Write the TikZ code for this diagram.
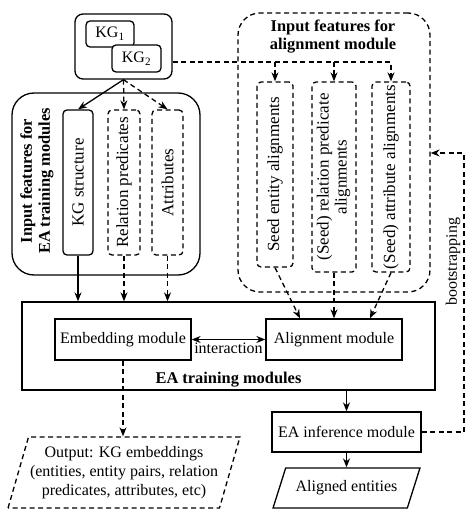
\documentclass[tikz,border=0pt]{standalone}
\usepackage{fontspec}
\setmainfont{Liberation Serif}
\usetikzlibrary{arrows.meta,shapes.geometric}

\begin{document}
\begin{tikzpicture}[x=1pt,y=-1pt,line width=1.3pt,
  font=\fontsize{16}{19}\selectfont,
  box/.style={draw,rectangle,inner sep=0pt},
  rbox/.style={box,rounded corners=4pt},
  dsh/.style={dash pattern=on 5pt off 3.5pt},
  dbox/.style={rbox,dsh},
  vert/.style={font=\fontsize{17}{18}\selectfont},
  group/.style={draw,rectangle,rounded corners=22pt,inner sep=0pt},
  bold/.style={font=\fontsize{16.4}{18}\selectfont\bfseries},
  para/.style={trapezium,draw,trapezium stretches=true,inner sep=0pt,align=center},
  arr/.style={-{Stealth[length=9pt,width=7pt]}}]
\useasboundingbox (0,0) rectangle (474,513);

% the two KGs
\node[rbox,rounded corners=8pt,minimum width=97pt,minimum height=65pt] (kg) at (123.5,46.5) {};
\node[rbox,minimum width=48pt,minimum height=26pt] (kga) at (110,34) {KG\textsubscript{1}};
\node[rbox,fill=white,minimum width=49pt,minimum height=27pt] (kgb) at (136.5,58.5) {KG\textsubscript{2}};

% input features for EA training modules
\node[group,minimum width=188pt,minimum height=182pt] (trainin) at (106,184) {};
\node[bold,rotate=90,align=center] (traintitle) at (37,181) {Input features for\\EA training modules};
\node[rbox,vert,minimum width=30pt,minimum height=145pt] (kgstr) at (78,182.5) {\rotatebox{90}{KG structure}};
\node[dbox,vert,minimum width=32pt,minimum height=145pt] (relpred) at (124,182.5) {\rotatebox{90}{Relation predicates}};
\node[dbox,vert,minimum width=31pt,minimum height=145pt] (attr) at (167.5,182.5) {\rotatebox{90}{Attributes}};

% input features for alignment module
\node[group,dsh,minimum width=192pt,minimum height=279pt] (alignin) at (334,152.5) {};
\node[bold,align=center] (aligntitle) at (333,37) {Input features for\\alignment module};
\node[dbox,vert,minimum width=36pt,minimum height=185pt] (seedent) at (275,174.5) {\rotatebox{90}{Seed entity alignments}};
\node[dbox,vert,minimum width=44pt,minimum height=190pt] (seedrel) at (334,177) {\rotatebox{90}{\begin{tabular}{@{}c@{}}(Seed) relation predicate\\alignments\end{tabular}}};
\node[dbox,vert,minimum width=38pt,minimum height=190pt] (seedattr) at (391,177) {\rotatebox{90}{(Seed) attribute alignments}};

% EA training modules
\node[box,minimum width=413pt,minimum height=88pt] (train) at (228.5,346) {};
\node[box,minimum width=136pt,minimum height=41pt] (embed) at (123,339.5) {Embedding module};
\node[box,minimum width=136pt,minimum height=41pt] (align) at (334,339.5) {Alignment module};
\node[bold] (traintxt) at (228.5,380) {EA training modules};
\draw[{Stealth[length=9pt,width=7pt]}-{Stealth[length=9pt,width=7pt]}] (embed) -- node[below=-1pt] (inter) {interaction} (align);

% outputs
\node[para,dsh,minimum width=232pt,minimum height=71pt,trapezium left angle=69,trapezium right angle=111] (outp) at (124,472.5) {Output: KG embeddings\\(entities, entity pairs, relation\\predicates, attributes, etc)};
\node[box,minimum width=149pt,minimum height=40pt] (infer) at (346.5,432) {EA inference module};
\node[para,minimum width=147pt,minimum height=40pt,trapezium left angle=54,trapezium right angle=126] (aligned) at (346.5,488) {Aligned entities};
\node[rotate=90] (boottxt) at (453,262) {bootstrapping};

% connectors
\coordinate (split) at (392,62);
\coordinate (boot) at (464,153);
\draw[arr] (kg.south) -- (kgstr.north);
\draw[arr,dsh] (kg.south) -- (relpred.north);
\draw[arr,dsh] (kg.south) -- (attr.north);
\draw[arr,dsh] (kg.east |- split) -| (seedattr.north);
\draw[arr,dsh] (seedent.north |- split) -- (seedent.north);
\draw[arr,dsh] (seedrel.north |- split) -- (seedrel.north);
\draw[arr] (kgstr.south) -- (kgstr.south |- train.north);
\draw[arr,dsh] (relpred.south) -- (relpred.south |- train.north);
\draw[arr,dsh] (attr.south) -- (attr.south |- train.north);
\draw[arr,dsh] (seedent.south) -- ([xshift=-34pt]align.north);
\draw[arr,dsh] (seedrel.south) -- (align.north);
\draw[arr,dsh] (seedattr.south) -- ([xshift=36pt]align.north);
\draw[arr,dsh] (embed.south) -- (embed.south |- outp.north);
\draw[arr] (infer.north |- train.south) -- (infer.north);
\draw[arr] (infer.south) -- (infer.south |- aligned.north);
\draw[arr,dsh] (infer.east) -| (boot) -- (alignin.east |- boot);
\end{tikzpicture}
\end{document}
